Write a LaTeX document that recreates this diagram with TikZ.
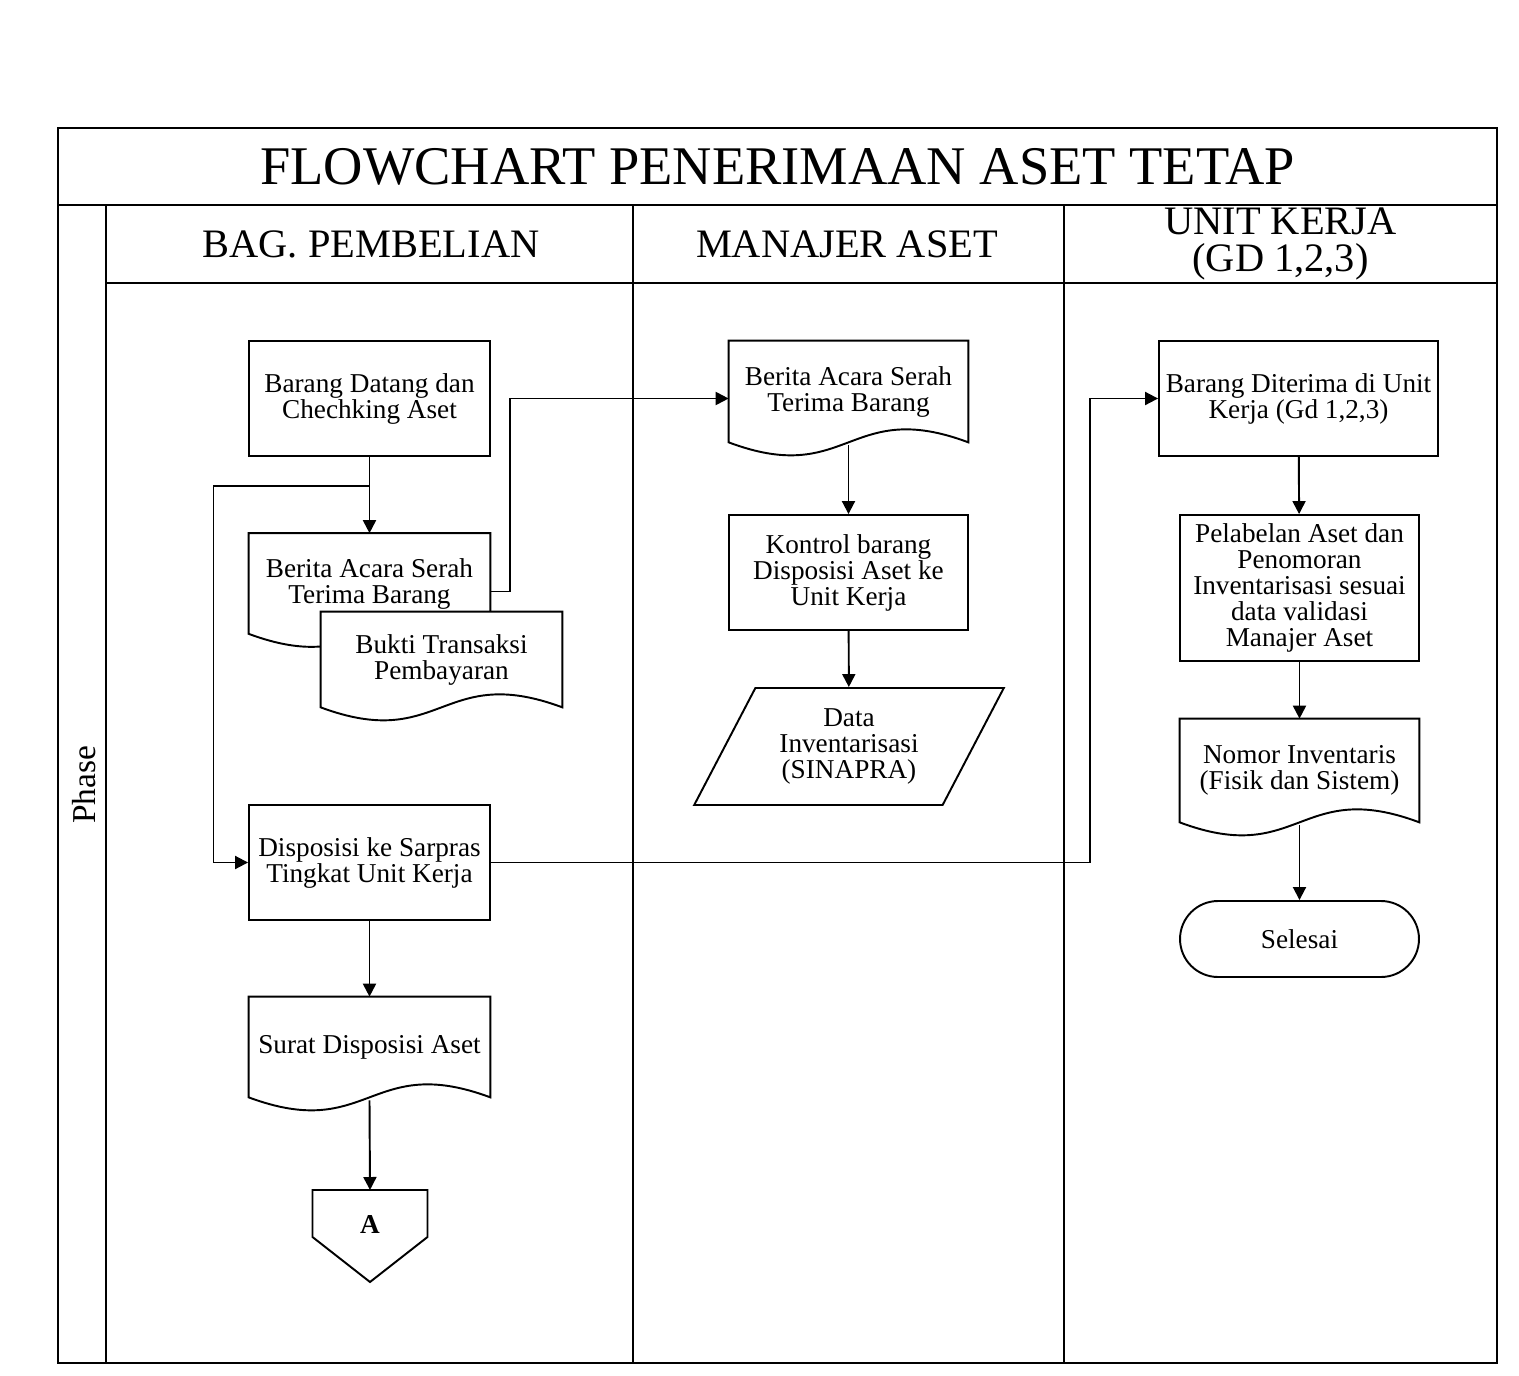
\documentclass[tikz,border=0pt]{standalone}
\usepackage{fontspec}
\setmainfont{Liberation Serif}
\usetikzlibrary{shapes.geometric, arrows.meta, positioning, calc, backgrounds}

% outline of a document symbol around a node
\newcommand{\docoutline}[1]{%
  \begin{scope}[on background layer]
    \draw[line width=1.1pt, fill=white] (#1.south west) -- (#1.north west) -- (#1.north east) -- (#1.south east)
      .. controls ($(#1.south)+(0,-45)$) and ($(#1.south)+(0,45)$) .. (#1.south west) -- cycle;
  \end{scope}}

\begin{document}
\begin{tikzpicture}[x=0.02cm, y=-0.02cm]
    \tikzstyle{box} = [font=\fontsize{15.5pt}{14.8pt}\selectfont, align=center, inner sep=2pt]
    \tikzstyle{process} = [box, rectangle, minimum width=4.82cm, minimum height=2.3cm, draw=black, line width=1.1pt]
    \tikzstyle{doc} = [box, rectangle, minimum width=4.82cm, minimum height=2cm]
    \tikzstyle{io} = [box, trapezium, trapezium left angle=60, trapezium right angle=120, trapezium stretches=true, minimum width=6.2cm, minimum height=2.34cm, draw=black, line width=1.1pt]
    \tikzstyle{term} = [box, rectangle, rounded corners=0.76cm, minimum width=4.78cm, minimum height=1.52cm, draw=black, line width=1.1pt]
    \tikzstyle{lane} = [font=\fontsize{23pt}{21.5pt}\selectfont, align=center]
    \tikzstyle{arrow} = [line width=1.1pt, -{Triangle[length=0.26cm, width=0.26cm]}]

    \useasboundingbox (0,0) rectangle (1519,1376);

    % frame and lanes
    \begin{scope}[line width=1.3pt]
        \draw (58,128) rectangle (1497,1363);
        \draw (58,205) -- (1497,205);
        \draw (106,205) -- (106,1363);
        \draw (106,283) -- (1497,283);
        \draw (633,205) -- (633,1363);
        \draw (1064,205) -- (1064,1363);
    \end{scope}

    \node (title) at (777.5,166.5) [font=\fontsize{31pt}{32pt}\selectfont] {FLOWCHART PENERIMAAN ASET TETAP};
    \node (phase) at (84,785) [rotate=90, font=\fontsize{19pt}{20pt}\selectfont] {Phase};
    \node (pembelian) at (371,244) [lane] {BAG. PEMBELIAN};
    \node (manajer) at (847,244) [lane] {MANAJER ASET};
    \node (unit) at (1280.5,244) [lane] {UNIT KERJA\\(GD 1,2,3)};

    % bag. pembelian
    \node (datang) at (369.5,398.5) [process] {Barang Datang dan\\Chechking Aset};
    \node (bast) at (369.5,583.5) [doc] {Berita Acara Serah\\Terima Barang};
    \node (bukti) at (441.5,659.5) [doc, minimum height=1.9cm] {Bukti Transaksi\\Pembayaran};
    \node (dispo) at (369.5,862.5) [process] {Disposisi ke Sarpras\\Tingkat Unit Kerja};
    \node (surat) at (369.5,1047) [doc] {Surat Disposisi Aset};
    \node (offA) at (370,1224) [box, font=\fontsize{15.5pt}{14.8pt}\selectfont\bfseries] {A};
    \docoutline{bast}
    \docoutline{bukti}
    \docoutline{surat}
    \draw[line width=1.1pt] ($(offA)+(-57.5,-34)$) -- ($(offA)+(57.5,-34)$) -- ($(offA)+(57.5,13)$)
        -- ($(offA)+(0,58)$) -- ($(offA)+(-57.5,13)$) -- cycle;

    % manajer aset
    \node (bastm) at (848.5,391.5) [doc, minimum width=4.78cm, minimum height=2.02cm] {Berita Acara Serah\\Terima Barang};
    \node (kontrol) at (848.5,572.5) [process, minimum width=4.78cm] {Kontrol barang\\Disposisi Aset ke\\Unit Kerja};
    \node (data) at (849,746.5) [io] {Data\\Inventarisasi\\(SINAPRA)};
    \docoutline{bastm}

    % unit kerja
    \node (terima) at (1298.5,398.5) [process, minimum width=5.58cm] {Barang Diterima di Unit\\Kerja (Gd 1,2,3)};
    \node (label) at (1299.5,588) [process, minimum width=4.78cm, minimum height=2.92cm] {Pelabelan Aset dan\\Penomoran\\Inventarisasi sesuai\\data validasi\\Manajer Aset};
    \node (nomor) at (1299.5,770.5) [doc, minimum width=4.78cm, minimum height=2.06cm] {Nomor Inventaris\\(Fisik dan Sistem)};
    \node (selesai) at (1299.5,939) [term] {Selesai};
    \docoutline{nomor}

    \coordinate (split) at (369.5,486);

    \draw [arrow] (datang) -- (bast);
    \draw [arrow] (split) -- ++(-156,0) |- (dispo.west);
    \draw [arrow] ($(bast.east)+(0,8)$) -- ++(20,0) |- ($(bastm.west)+(0,7)$);
    \draw [arrow] (dispo.east) -- ++(599,0) |- (terima.west);
    \draw [arrow] (dispo) -- (surat);
    \draw [arrow] ($(surat.south)+(0,3)$) -- ($(offA)+(0,-34)$);
    \draw [arrow] ($(bastm.south)+(0,3)$) -- (kontrol);
    \draw [arrow] (kontrol) -- (data);
    \draw [arrow] (terima) -- (label);
    \draw [arrow] (label) -- (nomor);
    \draw [arrow] ($(nomor.south)+(0,3)$) -- (selesai);
\end{tikzpicture}
\end{document}
